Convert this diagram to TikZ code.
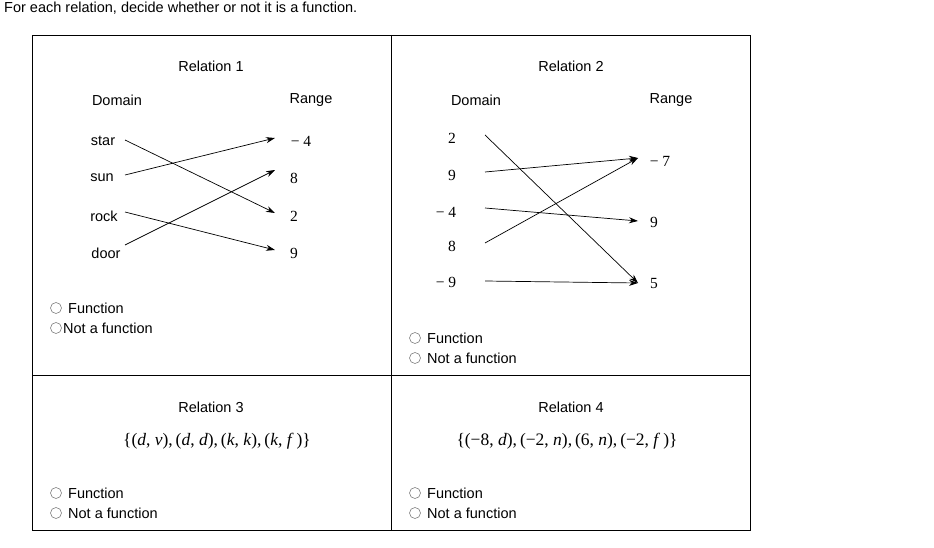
\documentclass[tikz,border=0pt]{standalone}
\usepackage{fontspec}
\setmainfont{Liberation Serif}
\setsansfont{Liberation Sans}
\usetikzlibrary{arrows.meta}
\newcommand{\iv}[1]{\textit{#1}}
\begin{document}
\begin{tikzpicture}[x=1pt,y=-1pt,
  lbl/.style={font=\sffamily\fontsize{14.5}{16}\selectfont,inner sep=0},
  num/.style={font=\fontsize{15.5}{18}\selectfont,inner sep=0},
  setf/.style={font=\fontsize{17.5}{20}\selectfont,inner sep=0},
  arr/.style={-{Stealth[length=9pt,width=6pt]},line width=0.7pt},
  radio/.style={draw=gray,circle,minimum size=11pt,inner sep=0,line width=0.6pt},
  box/.style={draw,line width=0.7pt}]
\useasboundingbox (0,0) rectangle (934,548);
\node[lbl,anchor=west] (hdr) at (4,8) {For each relation, decide whether or not it is a function.};
\draw[box] (32,35) rectangle (750,530);
\draw[box] (391,35) -- (391,530);
\draw[box] (32,375) -- (750,375);
% Relation 1
\node[lbl] (t1) at (211,66) {Relation 1};
\node[lbl] (d1) at (117,100) {Domain};
\node[lbl] (r1) at (311,100) {Range};
\node[lbl] (star) at (103,141) {star};
\node[lbl] (sun) at (102,178) {sun};
\node[lbl] (rock) at (104,216) {rock};
\node[lbl] (door) at (106,253) {door};
\node[num] (m4) at (301,141) {− 4};
\node[num] (e8) at (294,178) {8};
\node[num] (t2) at (294,216) {2};
\node[num] (n9) at (294,253) {9};
\coordinate (s1) at (125,140); \coordinate (s2) at (125,175);
\coordinate (s3) at (125,212); \coordinate (s4) at (125,245);
\coordinate (e1) at (275,138); \coordinate (e2) at (275,170);
\coordinate (e3) at (275,213); \coordinate (e4) at (275,250);
\draw[arr] (s1) -- (e3);
\draw[arr] (s2) -- (e1);
\draw[arr] (s3) -- (e4);
\draw[arr] (s4) -- (e2);
\node[radio] (c1a) at (56,308) {}; \node[lbl,anchor=west] (f1a) at (68,308) {Function};
\node[radio] (c1b) at (56,328) {}; \node[lbl,anchor=west] (f1b) at (63,328) {Not a function};
% Relation 2
\node[lbl] (tt2) at (571,66) {Relation 2};
\node[lbl] (d2) at (476,100) {Domain};
\node[lbl] (r2) at (671,100) {Range};
\node[num] (a2) at (452,138) {2};
\node[num] (a9) at (452,175) {9};
\node[num] (am4) at (446,212) {− 4};
\node[num] (a8) at (452,246) {8};
\node[num] (am9) at (446,282) {− 9};
\node[num] (bm7) at (660,161) {− 7};
\node[num] (b9) at (654,222) {9};
\node[num] (b5) at (654,283) {5};
\coordinate (p1) at (485,135); \coordinate (p2) at (485,172);
\coordinate (p3) at (485,208); \coordinate (p4) at (485,243);
\coordinate (p5) at (485,281);
\coordinate (q1) at (638,158); \coordinate (q2) at (638,221); \coordinate (q3) at (638,283);
\draw[arr] (p1) -- (q3);
\draw[arr] (p2) -- (q1);
\draw[arr] (p3) -- (q2);
\draw[arr] (p4) -- (q1);
\draw[arr] (p5) -- (q3);
\node[radio] (c2a) at (415,338) {}; \node[lbl,anchor=west] (f2a) at (427,338) {Function};
\node[radio] (c2b) at (415,358) {}; \node[lbl,anchor=west] (f2b) at (427,358) {Not a function};
% Relation 3
\node[lbl] (t3) at (211,407) {Relation 3};
\node[setf] (set3) at (217,441) {\{(\iv{d}, \iv{v}),\,(\iv{d}, \iv{d}),\,(\iv{k}, \iv{k}),\,(\iv{k}, \iv{f}\,)\}};
\node[radio] (c3a) at (56,493) {}; \node[lbl,anchor=west] (f3a) at (68,493) {Function};
\node[radio] (c3b) at (56,513) {}; \node[lbl,anchor=west] (f3b) at (68,513) {Not a function};
% Relation 4
\node[lbl] (t4) at (571,407) {Relation 4};
\node[setf] (set4) at (567,441) {\{(−8, \iv{d}),\,(−2, \iv{n}),\,(6, \iv{n}),\,(−2, \iv{f}\,)\}};
\node[radio] (c4a) at (415,493) {}; \node[lbl,anchor=west] (f4a) at (427,493) {Function};
\node[radio] (c4b) at (415,513) {}; \node[lbl,anchor=west] (f4b) at (427,513) {Not a function};
\end{tikzpicture}
\end{document}
